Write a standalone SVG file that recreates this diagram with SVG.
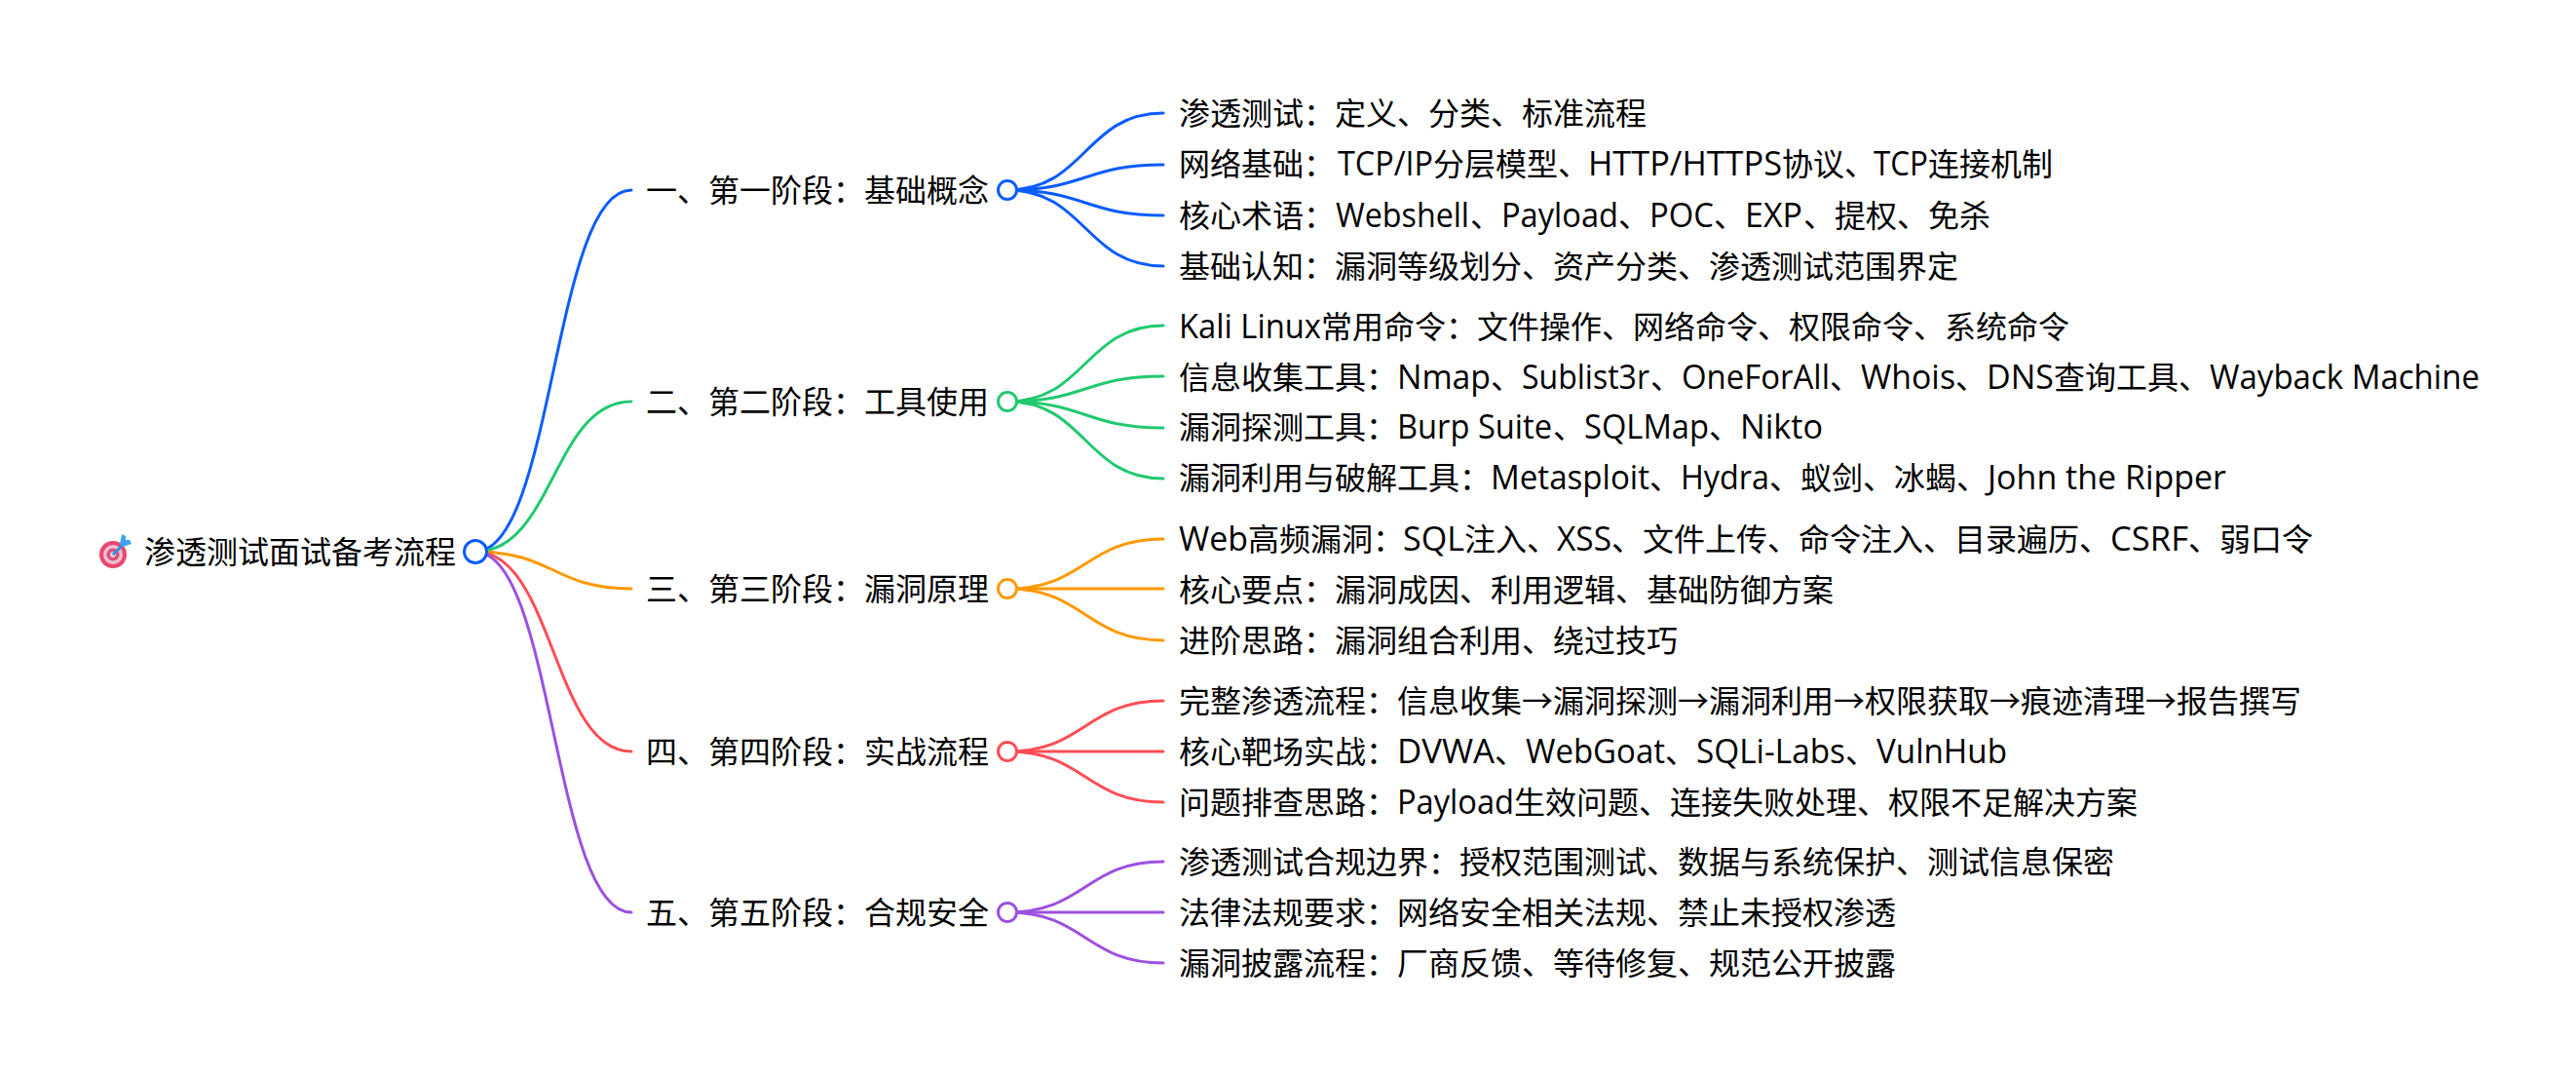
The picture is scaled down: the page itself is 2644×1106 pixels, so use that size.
<svg xmlns="http://www.w3.org/2000/svg" width="2644" height="1106" viewBox="0 0 2644 1106">
<style>
text{font-family:"Noto Sans CJK SC","Open Sans",sans-serif;font-size:32px;fill:#000}
.l{font-family:"Open Sans","Noto Sans CJK SC",sans-serif;font-size:34px}
.c{fill:none;stroke-width:3px;stroke-linecap:round}
.n{fill:#fff;stroke-width:3px}
.b{stroke:#0a5cff}.g{stroke:#22c96f}.o{stroke:#ff9900}.r{stroke:#ff4d55}.p{stroke:#9b51e0}
</style>
<rect width="2644" height="1106" fill="#fff"/>
<g id="connectors">
<path class="c b" d="M488 566C568 566 568 195 648 195"/>
<path class="c g" d="M488 566C568 566 568 412 648 412"/>
<path class="c o" d="M488 566C568 566 568 604 648 604"/>
<path class="c r" d="M488 566C568 566 568 771 648 771"/>
<path class="c p" d="M488 566C568 566 568 936 648 936"/>
<path class="c b" d="M1034 195C1114 195 1114 116 1194 116"/>
<path class="c b" d="M1034 195C1114 195 1114 169 1194 169"/>
<path class="c b" d="M1034 195C1114 195 1114 221 1194 221"/>
<path class="c b" d="M1034 195C1114 195 1114 273 1194 273"/>
<path class="c g" d="M1034 412C1114 412 1114 334 1194 334"/>
<path class="c g" d="M1034 412C1114 412 1114 386 1194 386"/>
<path class="c g" d="M1034 412C1114 412 1114 439 1194 439"/>
<path class="c g" d="M1034 412C1114 412 1114 491 1194 491"/>
<path class="c o" d="M1034 604C1114 604 1114 553 1194 553"/>
<path class="c o" d="M1034 604L1194 604"/>
<path class="c o" d="M1034 604C1114 604 1114 657 1194 657"/>
<path class="c r" d="M1034 771C1114 771 1114 719 1194 719"/>
<path class="c r" d="M1034 771L1194 771"/>
<path class="c r" d="M1034 771C1114 771 1114 823 1194 823"/>
<path class="c p" d="M1034 936C1114 936 1114 884 1194 884"/>
<path class="c p" d="M1034 936L1194 936"/>
<path class="c p" d="M1034 936C1114 936 1114 988 1194 988"/>
</g>
<g id="root"><g id="icon"><circle cx="116" cy="569" r="14" fill="#e9476f"/><circle cx="116" cy="569" r="10" fill="#edc0d2"/><circle cx="116" cy="569" r="6.5" fill="#dd4f7c"/><circle cx="116" cy="569" r="3" fill="#e6cfdc"/><path d="M116 569L127 558" stroke="#2f8fe0" stroke-width="3"/><path d="M123 558l2-10 4 2 0 4 4 0 2 4-9 3z" fill="#3aa5ee"/></g><text x="148" y="578">渗透测试面试备考流程</text><circle class="n b" cx="488" cy="566" r="11.5"/></g>
<g id="b1"><text x="663" y="207">一、第一阶段：基础概念</text><circle class="n b" cx="1034" cy="195" r="9.5"/></g>
<g id="b2"><text x="663" y="424">二、第二阶段：工具使用</text><circle class="n g" cx="1034" cy="412" r="9.5"/></g>
<g id="b3"><text x="663" y="616">三、第三阶段：漏洞原理</text><circle class="n o" cx="1034" cy="604" r="9.5"/></g>
<g id="b4"><text x="663" y="783">四、第四阶段：实战流程</text><circle class="n r" cx="1034" cy="771" r="9.5"/></g>
<g id="b5"><text x="663" y="948">五、第五阶段：合规安全</text><circle class="n p" cx="1034" cy="936" r="9.5"/></g>
<g id="l1"><text x="1210" y="128">渗透测试：定义、分类、标准流程</text></g>
<g id="l2"><text x="1210" y="180">网络基础：<tspan class="l" x="1373" textLength="98" lengthAdjust="spacingAndGlyphs">TCP/IP</tspan><tspan x="1471">分层模型、</tspan><tspan class="l" x="1630" textLength="199" lengthAdjust="spacingAndGlyphs">HTTP/HTTPS</tspan><tspan x="1829">协议、</tspan><tspan class="l" x="1923" textLength="56" lengthAdjust="spacingAndGlyphs">TCP</tspan><tspan x="1979">连接机制</tspan></text></g>
<g id="l3"><text x="1210" y="233">核心术语：<tspan class="l" x="1371" textLength="137" lengthAdjust="spacingAndGlyphs">Webshell</tspan><tspan x="1509">、</tspan><tspan class="l" x="1541" textLength="120" lengthAdjust="spacingAndGlyphs">Payload</tspan><tspan x="1661">、</tspan><tspan class="l" x="1693" textLength="66" lengthAdjust="spacingAndGlyphs">POC</tspan><tspan x="1759">、</tspan><tspan class="l" x="1791" textLength="59" lengthAdjust="spacingAndGlyphs">EXP</tspan><tspan x="1851">、提权、免杀</tspan></text></g>
<g id="l4"><text x="1210" y="285">基础认知：漏洞等级划分、资产分类、渗透测试范围界定</text></g>
<g id="l5"><text x="1210" y="347"><tspan class="l" textLength="146" lengthAdjust="spacingAndGlyphs">Kali Linux</tspan><tspan x="1356">常用命令：文件操作、网络命令、权限命令、系统命令</tspan></text></g>
<g id="l6"><text x="1210" y="399">信息收集工具：<tspan class="l" x="1434" textLength="96" lengthAdjust="spacingAndGlyphs">Nmap</tspan><tspan x="1530">、</tspan><tspan class="l" x="1562" textLength="131" lengthAdjust="spacingAndGlyphs">Sublist3r</tspan><tspan x="1694">、</tspan><tspan class="l" x="1726" textLength="152" lengthAdjust="spacingAndGlyphs">OneForAll</tspan><tspan x="1878">、</tspan><tspan class="l" x="1910" textLength="97" lengthAdjust="spacingAndGlyphs">Whois</tspan><tspan x="2007">、</tspan><tspan class="l" x="2039" textLength="69" lengthAdjust="spacingAndGlyphs">DNS</tspan><tspan x="2108">查询工具、</tspan><tspan class="l" x="2268" textLength="277" lengthAdjust="spacingAndGlyphs">Wayback Machine</tspan></text></g>
<g id="l7"><text x="1210" y="450">漏洞探测工具：<tspan class="l" x="1434" textLength="159" lengthAdjust="spacingAndGlyphs">Burp Suite</tspan><tspan x="1594">、</tspan><tspan class="l" x="1626" textLength="128" lengthAdjust="spacingAndGlyphs">SQLMap</tspan><tspan x="1754">、</tspan><tspan class="l" x="1786" textLength="85" lengthAdjust="spacingAndGlyphs">Nikto</tspan></text></g>
<g id="l8"><text x="1210" y="502">漏洞利用与破解工具：<tspan class="l" x="1530" textLength="163" lengthAdjust="spacingAndGlyphs">Metasploit</tspan><tspan x="1693">、</tspan><tspan class="l" x="1725" textLength="91" lengthAdjust="spacingAndGlyphs">Hydra</tspan><tspan x="1816">、蚁剑、冰蝎、</tspan><tspan class="l" x="2040" textLength="245" lengthAdjust="spacingAndGlyphs">John the Ripper</tspan></text></g>
<g id="l9"><text x="1210" y="565"><tspan class="l" textLength="71" lengthAdjust="spacingAndGlyphs">Web</tspan><tspan x="1281">高频漏洞：</tspan><tspan class="l" x="1440" textLength="63" lengthAdjust="spacingAndGlyphs">SQL</tspan><tspan x="1503">注入、</tspan><tspan class="l" x="1598" textLength="56" lengthAdjust="spacingAndGlyphs">XSS</tspan><tspan x="1654">、文件上传、命令注入、目录遍历、</tspan><tspan class="l" x="2166" textLength="80" lengthAdjust="spacingAndGlyphs">CSRF</tspan><tspan x="2246">、弱口令</tspan></text></g>
<g id="l10"><text x="1210" y="617">核心要点：漏洞成因、利用逻辑、基础防御方案</text></g>
<g id="l11"><text x="1210" y="669">进阶思路：漏洞组合利用、绕过技巧</text></g>
<g id="l12"><text x="1210" y="731">完整渗透流程：信息收集→漏洞探测→漏洞利用→权限获取→痕迹清理→报告撰写</text></g>
<g id="l13"><text x="1210" y="783">核心靶场实战：<tspan class="l" x="1434" textLength="100" lengthAdjust="spacingAndGlyphs">DVWA</tspan><tspan x="1534">、</tspan><tspan class="l" x="1566" textLength="143" lengthAdjust="spacingAndGlyphs">WebGoat</tspan><tspan x="1709">、</tspan><tspan class="l" x="1741" textLength="153" lengthAdjust="spacingAndGlyphs">SQLi-Labs</tspan><tspan x="1894">、</tspan><tspan class="l" x="1926" textLength="134" lengthAdjust="spacingAndGlyphs">VulnHub</tspan></text></g>
<g id="l14"><text x="1210" y="835">问题排查思路：<tspan class="l" x="1434" textLength="120" lengthAdjust="spacingAndGlyphs">Payload</tspan><tspan x="1554">生效问题、连接失败处理、权限不足解决方案</tspan></text></g>
<g id="l15"><text x="1210" y="896">渗透测试合规边界：授权范围测试、数据与系统保护、测试信息保密</text></g>
<g id="l16"><text x="1210" y="948">法律法规要求：网络安全相关法规、禁止未授权渗透</text></g>
<g id="l17"><text x="1210" y="1000">漏洞披露流程：厂商反馈、等待修复、规范公开披露</text></g>
</svg>
